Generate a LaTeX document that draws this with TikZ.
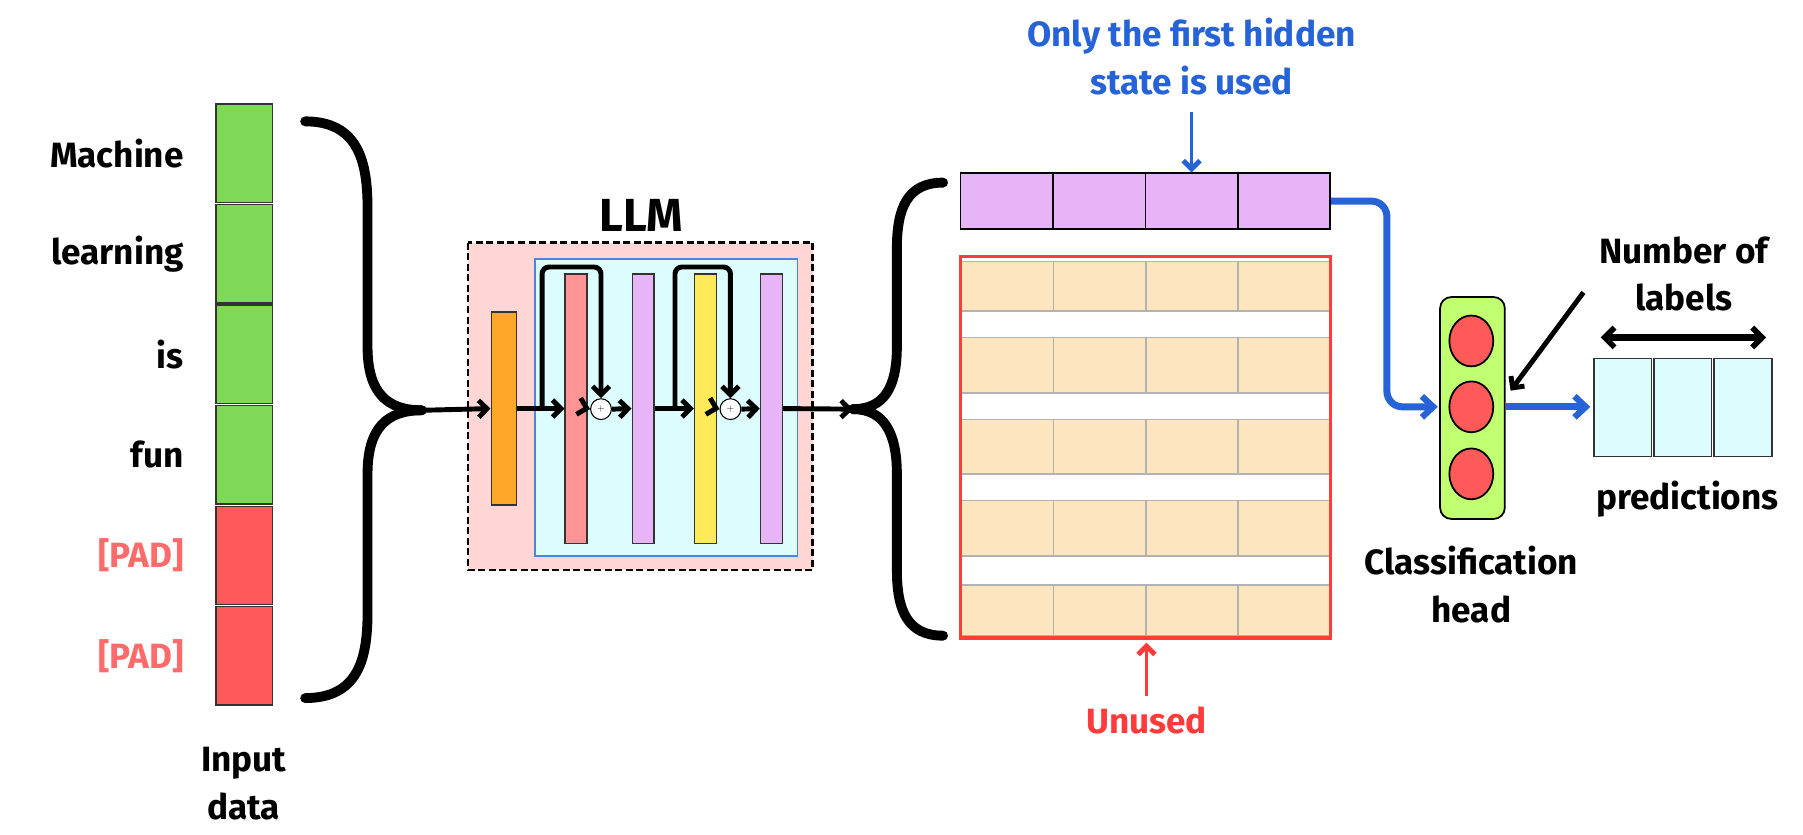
\documentclass[tikz,border=0pt]{standalone}
\usepackage{fontspec}
\setmainfont{Fira Sans}
\usetikzlibrary{arrows.meta,positioning,shapes.geometric}
\newcommand\px{0.0578cm}
\definecolor{tokgreen}{HTML}{7FD957}
\definecolor{tokred}{HTML}{FF5A5A}
\definecolor{padred}{HTML}{FF6B6B}
\definecolor{llmpink}{HTML}{FFD6D6}
\definecolor{cyanbg}{HTML}{DDFCFD}
\definecolor{barorange}{HTML}{FFA726}
\definecolor{barred}{HTML}{FF9494}
\definecolor{barpurple}{HTML}{E8B4F8}
\definecolor{baryellow}{HTML}{FFEB5A}
\definecolor{beige}{HTML}{FDE5BF}
\definecolor{hintblue}{HTML}{2563D6}
\definecolor{headgreen}{HTML}{C0FF70}
\definecolor{unusedred}{HTML}{FF3B3B}
\tikzset{
  lbl/.style={font=\fontsize{50}{58}\selectfont\bfseries, align=center, inner sep=0pt},
  cell/.style={draw=black!80, line width=2pt, minimum width=49*\px, minimum height=85*\px, inner sep=0pt},
  bar/.style={draw=black!80, line width=2pt, minimum width=19*\px, minimum height=233*\px, inner sep=0pt},
  brace/.style={line width=14pt, line cap=round},
  flow/.style={line width=10pt, -{Straight Barb[length=16pt,width=30pt,line width=9pt]}},
  thinflow/.style={line width=7pt, -{Straight Barb[length=12pt,width=24pt,line width=7pt]}},
  adder/.style={circle, draw, fill=white, line width=1.5pt, minimum size=18*\px, inner sep=0pt, font=\Large},
}
\begin{document}
\begin{tikzpicture}[x=\px, y=-\px]
    \useasboundingbox (0,0) rectangle (1560,722.4);

    % Input tokens
    \foreach \i/\c in {0/tokgreen, 1/tokgreen, 2/tokgreen, 3/tokgreen, 4/tokred, 5/tokred} {
        \node[cell, fill=\c] (tok\i) at (211.5, 132.5+87*\i) {};
    }
    \foreach \i/\w in {0/Machine, 1/learning, 2/is, 3/fun} {
        \node[lbl, anchor=east] (word\i) at (159, 132.5+87*\i) {\w};
    }
    \node[lbl, anchor=east, text=padred] (word4) at (159, 480.5) {[PAD]};
    \node[lbl, anchor=east, text=padred] (word5) at (159, 567.5) {[PAD]};
    \node[lbl] (inputlbl) at (211, 678) {Input\\[10pt]data};

    % Left brace
    \coordinate (lbtip) at (365, 355);
    \draw[brace] (264, 105) .. controls (310, 105) and (318, 140) .. (318, 180)
        -- (318, 300) .. controls (318, 340) and (335, 355) .. (lbtip);
    \draw[brace] (264, 604) .. controls (310, 604) and (318, 570) .. (318, 530)
        -- (318, 410) .. controls (318, 370) and (335, 355) .. (lbtip);

    % LLM block
    \node[lbl, font=\fontsize{66}{70}\selectfont\bfseries] (llmlbl) at (555, 186) {LLM};
    \draw[line width=3.5pt, fill=llmpink, dash pattern=on 10pt off 5pt] (405, 210) rectangle (703, 493);
    \draw[hintblue!80, line width=2pt, fill=cyanbg] (463, 224) rectangle (690, 481);
    \node[cell, fill=barorange, minimum width=22*\px, minimum height=167*\px] (emb) at (436, 353.5) {};
    \node[bar, fill=barred] (attn1) at (498.5, 353.5) {};
    \node[bar, fill=barpurple] (ffn1) at (556.5, 353.5) {};
    \node[bar, fill=baryellow] (attn2) at (610.5, 353.5) {};
    \node[bar, fill=barpurple] (ffn2) at (667.5, 353.5) {};
    \node[adder] (add1) at (520, 354) {$+$};
    \node[adder] (add2) at (632, 354) {$+$};

    \draw[thinflow] (lbtip) -- (emb.west);
    \draw[thinflow] (emb.east) -- (attn1.west);
    \draw[thinflow] (attn1.east) -- (add1.west);
    \draw[thinflow] (add1.east) -- (ffn1.west);
    \draw[thinflow] (ffn1.east) -- (attn2.west);
    \draw[thinflow] (attn2.east) -- (add2.west);
    \draw[thinflow] (add2.east) -- (ffn2.west);
    \draw[thinflow, rounded corners=10pt] (469, 354) -- (469, 231) -- (520, 231) -- (add1.north);
    \draw[thinflow, rounded corners=10pt] (584, 354) -- (584, 231) -- (632, 231) -- (add2.north);
    \coordinate (rbtip) at (738, 354);
    \draw[thinflow] (ffn2.east) -- (rbtip);

    % Right brace
    \draw[brace] (816, 158) .. controls (785, 158) and (776, 180) .. (776, 215)
        -- (776, 300) .. controls (776, 335) and (765, 354) .. (rbtip);
    \draw[brace] (816, 550) .. controls (785, 550) and (776, 528) .. (776, 493)
        -- (776, 410) .. controls (776, 375) and (765, 354) .. (rbtip);

    % Hidden states
    \foreach \j in {0,...,3} {
        \node[draw, line width=2.5pt, fill=barpurple, minimum width=80*\px, minimum height=48*\px, inner sep=0pt] (first\j) at (871+80*\j, 174) {};
    }
    \draw[unusedred, line width=5pt, fill=white] (831, 222) rectangle (1151, 552);
    \foreach \r/\ya/\yb in {0/226/269, 1/292/340, 2/363/410, 3/433/481, 4/506/550} {
        \foreach \j in {0,...,3} {
            \draw[black!30, line width=2pt, fill=beige] (832+79.75*\j, \ya) rectangle (832+79.75*\j+79.75, \yb);
        }
    }
    \draw[unusedred, line width=5pt] (831, 222) rectangle (1151, 552);
    \coordinate (unusedbot) at (992, 556);

    \node[lbl, text=hintblue] (firstlbl) at (1031, 49) {Only the first hidden\\[10pt]state is used};
    \draw[hintblue, thinflow, line width=4pt] (1031, 97) -- (first2.north);
    \node[lbl, text=unusedred] (unusedlbl) at (992, 623) {Unused};
    \draw[unusedred, thinflow, line width=4pt] (992, 602) -- (unusedbot);

    % Classification head
    \node[draw, line width=2.5pt, fill=headgreen, rounded corners=16pt, minimum width=56*\px, minimum height=192*\px] (head) at (1274, 353) {};
    \foreach \k/\y in {0/295, 1/352, 2/410} {
        \node[draw, line width=2.5pt, fill=tokred, ellipse, minimum width=38*\px, minimum height=44*\px, inner sep=0pt] (neuron\k) at (1273, \y) {};
    }
    \node[lbl] (headlbl) at (1273, 506) {Classification\\[10pt]head};
    \draw[hintblue, flow, rounded corners=22pt] (first3.east) -- (1200, 174) -- (1200, 352) -- (1244, 352);
    \draw[hintblue, flow] (neuron1 -| head.east) -- (1376, 352);

    % Predictions
    \foreach \j in {0,1,2} {
        \node[draw=black!80, line width=2pt, fill=cyanbg, minimum width=50*\px, minimum height=85*\px, inner sep=0pt] (pred\j) at (1404+52*\j, 352.5) {};
    }
    \node[lbl] (predlbl) at (1460, 432) {predictions};
    \draw[line width=9pt, {Straight Barb[length=14pt,width=28pt,line width=8pt]}-{Straight Barb[length=14pt,width=28pt,line width=8pt]}] (1385, 292) -- (1528, 292);
    \node[lbl] (numlbl) at (1457, 237) {Number of\\[10pt]labels};
    \draw[thinflow] (1370, 253) -- (1307, 338);
\end{tikzpicture}
\end{document}
